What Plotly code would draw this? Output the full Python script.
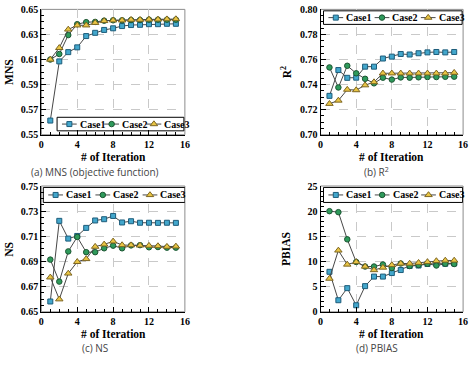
import plotly.graph_objects as go

W, H = 474, 372

iters = list(range(1, 16))
case_names = ["Case1", "Case2", "Case3"]

mns_case1 = [0.5613, 0.6085, 0.6159, 0.6197, 0.6287, 0.6313, 0.6336, 0.6349, 0.6367, 0.6375, 0.6377, 0.6382, 0.6382, 0.6385, 0.6385]
mns_case2 = [0.6100, 0.6144, 0.6295, 0.6382, 0.6398, 0.6400, 0.6410, 0.6413, 0.6413, 0.6415, 0.6415, 0.6418, 0.6418, 0.6418, 0.6418]
mns_case3 = [0.6100, 0.6193, 0.6340, 0.6373, 0.6373, 0.6393, 0.6408, 0.6413, 0.6413, 0.6418, 0.6418, 0.6420, 0.6420, 0.6422, 0.6423]

r2_case1 = [0.7310, 0.7516, 0.7454, 0.7455, 0.7543, 0.7543, 0.7608, 0.7623, 0.7644, 0.7640, 0.7650, 0.7657, 0.7660, 0.7657, 0.7660]
r2_case2 = [0.7537, 0.7377, 0.7550, 0.7490, 0.7446, 0.7410, 0.7455, 0.7440, 0.7457, 0.7455, 0.7458, 0.7460, 0.7460, 0.7462, 0.7463]
r2_case3 = [0.7247, 0.7273, 0.7360, 0.7356, 0.7395, 0.7420, 0.7490, 0.7490, 0.7490, 0.7490, 0.7490, 0.7490, 0.7490, 0.7490, 0.7495]

ns_case1 = [0.6582, 0.7223, 0.7082, 0.7103, 0.7167, 0.7226, 0.7236, 0.7262, 0.7210, 0.7220, 0.7208, 0.7208, 0.7207, 0.7208, 0.7207]
ns_case2 = [0.6915, 0.6740, 0.6980, 0.7095, 0.6974, 0.6974, 0.7005, 0.7026, 0.7005, 0.7028, 0.7030, 0.7013, 0.7015, 0.7010, 0.7010]
ns_case3 = [0.6774, 0.6600, 0.6805, 0.6897, 0.6920, 0.7018, 0.7036, 0.7060, 0.7031, 0.7030, 0.7028, 0.7026, 0.7023, 0.7018, 0.7020]

pbias_case1 = [7.95, 2.3, 4.7, 1.3, 5.1, 7.0, 7.0, 7.7, 8.3, 9.1, 9.2, 9.5, 9.55, 9.55, 9.6]
pbias_case2 = [20.0, 19.8, 14.4, 9.9, 9.0, 9.0, 9.4, 8.7, 9.6, 9.1, 9.3, 9.55, 9.2, 9.55, 9.5]
pbias_case3 = [6.6, 12.2, 9.4, 9.9, 9.0, 8.3, 8.8, 9.3, 9.6, 9.6, 9.75, 9.9, 10.1, 10.2, 10.2]

x_ticks = [0, 4, 8, 12, 16]
mns_ticks = [0.55, 0.57, 0.59, 0.61, 0.63, 0.65]
r2_ticks = [0.70, 0.72, 0.74, 0.76, 0.78, 0.80]
ns_ticks = [0.65, 0.67, 0.69, 0.71, 0.73, 0.75]
pbias_ticks = [0, 5, 10, 15, 20, 25]

SERIF = "Times New Roman, Liberation Serif, serif"
SANS = "Open Sans, Noto Sans, sans-serif"
LINE_COL = "#474747"
styles = [
    dict(symbol="square", size=5, color="#43a7cc", line=dict(color="#1d5c7a", width=1)),
    dict(symbol="circle", size=5.5, color="#2e9a5b", line=dict(color="#1c5532", width=1)),
    dict(symbol="triangle-up", size=6.5, color="#e9c544", line=dict(color="#7d6520", width=1)),
]

def px(x):
    return x / W

def py(y):
    return 1 - y / H

# panel geometry in pixels: (x0, x1, ytop, ybot)
panels = [
    dict(geom=(39, 185, 3.5, 133), series=[mns_case1, mns_case2, mns_case3], ticks=mns_ticks,
         fmt=".2f", minor=0.005, title="MNS", title_x=6, caption="(a) MNS (objective function)",
         cap_x=94, cap_y=172, xt_y=156, legend=(55, 184, 115, 129)),
    dict(geom=(323, 468, 3.5, 133), series=[r2_case1, r2_case2, r2_case3], ticks=r2_ticks,
         fmt=".2f", minor=0.005, title="R<sup>2</sup>", title_x=288, caption="(b) R<sup>2</sup>",
         cap_x=380, cap_y=172, xt_y=156, legend=(326, 467, 5, 19)),
    dict(geom=(39, 185, 186, 316), series=[ns_case1, ns_case2, ns_case3], ticks=ns_ticks,
         fmt=".2f", minor=0.005, title="NS", title_x=6, caption="(c) NS",
         cap_x=94, cap_y=353, xt_y=339, legend=(41, 185, 187.5, 203)),
    dict(geom=(323, 468, 186, 316), series=[pbias_case1, pbias_case2, pbias_case3], ticks=pbias_ticks,
         fmt="d", minor=1, title="PBIAS", title_x=288, caption="(d) PBIAS",
         cap_x=380, cap_y=353, xt_y=339, legend=(326, 467.5, 187.5, 203)),
]

fig = go.Figure()
annotations = []
shapes = []
tickfont = dict(family=SERIF, size=10, color="black", weight="bold")

for i, p in enumerate(panels, start=1):
    x0, x1, yt, yb = p["geom"]
    ymin, ymax = p["ticks"][0], p["ticks"][-1]
    xa = "x" if i == 1 else f"x{i}"
    ya = "y" if i == 1 else f"y{i}"

    def to_dx(X):
        return (X - x0) / (x1 - x0) * 16

    def to_dy(Y):
        return ymax - (Y - yt) / (yb - yt) * (ymax - ymin)

    for s, vals, st in zip(case_names, p["series"], styles):
        fig.add_trace(go.Scatter(x=iters, y=vals, mode="lines+markers", name=s,
                                 line=dict(color=LINE_COL, width=1), marker=st, cliponaxis=False,
                                 showlegend=False, xaxis=xa, yaxis=ya))
    xkey = "xaxis" if i == 1 else f"xaxis{i}"
    ykey = "yaxis" if i == 1 else f"yaxis{i}"
    gridstyle = dict(showgrid=True, gridcolor="#c9c9c9", griddash="dash", gridwidth=1)
    fig.update_layout(**{
        xkey: dict(domain=[px(x0), px(x1)], anchor=ya, range=[0, 16], tickvals=x_ticks,
                   ticks="inside", ticklen=5, tickcolor="black", showline=True, linecolor="black",
                   linewidth=1, zeroline=False, tickfont=tickfont, fixedrange=True,
                   minor=dict(dtick=1, ticks="inside", ticklen=3, tickcolor="black", showgrid=False),
                   **gridstyle),
        ykey: dict(domain=[py(yb), py(yt)], anchor=xa, range=[ymin, ymax],
                   tickvals=p["ticks"], tickformat=p["fmt"], ticks="inside", ticklen=5,
                   tickcolor="black", showline=True, linecolor="black", linewidth=1,
                   zeroline=False, tickfont=tickfont, fixedrange=True,
                   minor=dict(dtick=p["minor"], ticks="inside", ticklen=3, tickcolor="black", showgrid=False),
                   **gridstyle),
    })
    shapes.append(dict(type="rect", xref=f"{xa} domain", yref=f"{ya} domain", x0=0, x1=1, y0=0, y1=1,
                       line=dict(color="#8c8c8c", width=1), layer="below"))
    # axis titles and captions
    annotations.append(dict(text=p["title"], x=px(p["title_x"]), y=py((yt + yb) / 2), xref="paper", yref="paper",
                            xanchor="center", yanchor="middle",
                            showarrow=False, textangle=-90, font=dict(family=SERIF, size=11.5, color="black", weight="bold")))
    annotations.append(dict(text="# of Iteration", x=px((x0 + x1) / 2), y=py(p["xt_y"]), xref="paper", yref="paper",
                            xanchor="center", yanchor="middle",
                            showarrow=False, font=dict(family=SERIF, size=11.5, color="black", weight="bold")))
    annotations.append(dict(text=p["caption"], x=px(p["cap_x"]), y=py(p["cap_y"]), xref="paper", yref="paper",
                            xanchor="center", yanchor="middle",
                            showarrow=False, font=dict(family=SANS, size=10, color="#444444")))

    # in-plot legend box (layout element)
    lx0, lx1, ly0, ly1 = p["legend"]
    shapes.append(dict(type="rect", xref=xa, yref=ya, x0=to_dx(lx0), x1=to_dx(lx1), y0=to_dy(ly0), y1=to_dy(ly1),
                       line=dict(color="black", width=1), fillcolor="white", layer="between"))
    step = (lx1 - lx0) / 3
    yc = (ly0 + ly1) / 2
    for j, (s, st) in enumerate(zip(case_names, styles)):
        gx = lx0 + 5 + j * step
        fig.add_trace(go.Scatter(x=[to_dx(gx), to_dx(gx + 15)], y=[to_dy(yc), to_dy(yc)], mode="lines",
                                 line=dict(color=LINE_COL, width=1), cliponaxis=False,
                                 showlegend=False, hoverinfo="skip", xaxis=xa, yaxis=ya))
        fig.add_trace(go.Scatter(x=[to_dx(gx + 7.5)], y=[to_dy(yc)], mode="markers", marker=st, cliponaxis=False,
                                 showlegend=False, hoverinfo="skip", xaxis=xa, yaxis=ya))
        annotations.append(dict(text=s, x=to_dx(gx + 16), y=to_dy(yc), xref=xa, yref=ya, xanchor="left",
                                yanchor="middle",
                                showarrow=False, font=dict(family=SERIF, size=10, color="black", weight="bold")))

fig.update_layout(width=W, height=H, margin=dict(l=0, r=0, t=0, b=0), paper_bgcolor="white",
                  plot_bgcolor="white", showlegend=False, annotations=annotations, shapes=shapes)
fig.write_html("out.html", config={"displayModeBar": False},
               post_script="document.body.style.margin='0';document.body.style.overflow='hidden';")
